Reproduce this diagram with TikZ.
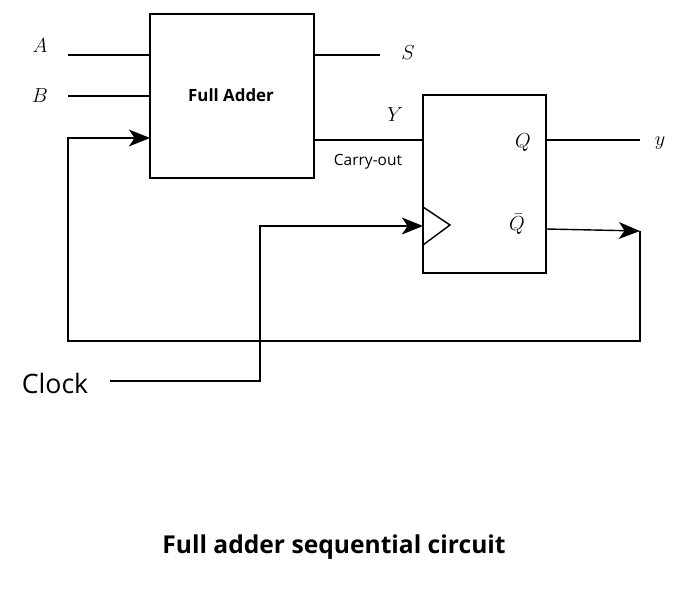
\documentclass[tikz,border=0pt]{standalone}
\usepackage{fontspec}
\setmainfont{Open Sans}
\usetikzlibrary{arrows.meta}
\begin{document}
\begin{tikzpicture}[x=0.025cm,y=-0.025cm,
  wire/.style={line width=1pt},
  arr/.style={wire,-{Stealth[length=15pt,width=12pt,inset=4pt]}},
  box/.style={draw,line width=1pt,inner sep=0},
  lbl/.style={font=\fontsize{14}{16}\selectfont}]
\useasboundingbox (0,0) rectangle (698,603);
\draw[box] (150,14) rectangle (314,178);
\node[font=\bfseries\fontsize{12}{14}\selectfont] (fa) at (231,95) {Full Adder};
\draw[box] (423,95) rectangle (546,273);
\draw[wire] (423,207) -- (450,225) -- (423,245);
\node[lbl] (a) at (40,46) {$A$};
\node[lbl] (b) at (40,96) {$B$};
\node[lbl] (s) at (408,53) {$S$};
\node[lbl] (yy) at (395,115) {$Y$};
\node[font=\fontsize{11}{13}\selectfont] (co) at (368,162) {Carry-out};
\node[lbl] (q) at (523,143) {$Q$};
\node[lbl,inner sep=1pt] (qb) at (517,224) {$\bar{Q}$};
\node[lbl] (y) at (660,143) {$y$};
\node[font=\fontsize{19}{22}\selectfont] (clk) at (55,383) {Clock};
\node[font=\bfseries\fontsize{17.5}{20}\selectfont] (title) at (334,547) {Full adder sequential circuit};
\coordinate (a0) at (68,55); \coordinate (a1) at (150,55);
\coordinate (b0) at (68,96); \coordinate (b1) at (150,96);
\coordinate (s0) at (314,55); \coordinate (s1) at (380,55);
\coordinate (c0) at (314,140); \coordinate (c1) at (423,140);
\coordinate (q0) at (546,140); \coordinate (q1) at (640,140);
\coordinate (qb0) at (546,229); \coordinate (qb1) at (640,231);
\coordinate (cin) at (150,138);
\coordinate (k0) at (110,381); \coordinate (k1) at (423,226);
\draw[wire] (a0) -- (a1);
\draw[wire] (b0) -- (b1);
\draw[wire] (s0) -- (s1);
\draw[wire] (c0) -- (c1);
\draw[wire] (q0) -- (q1);
\draw[arr] (qb0) -- (qb1);
\draw[arr] (qb1) -- (640,341) -- (68,341) -- (68,138) -- (cin);
\draw[arr] (k0) -- (260,381) -- (260,226) -- (k1);
\end{tikzpicture}
\end{document}
